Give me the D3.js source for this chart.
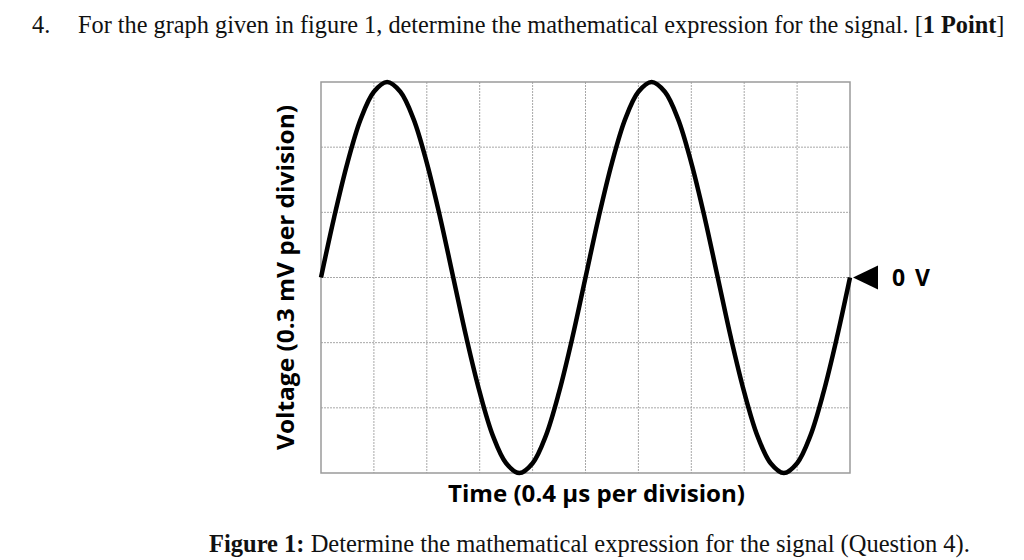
<!DOCTYPE html>
<html lang="en">
<head>
    <meta charset="UTF-8">
    <title>Figure 1: sinusoidal signal</title>
    <script src="https://d3js.org/d3.v7.min.js"></script>
    <style>
        body { margin: 0; background: #fff; }
        svg { display: block; }
    </style>
</head>
<body>
    <div id="chart"></div>
    <script>
        // Signal, in divisions (0.25 div steps)
        const timeDiv = [0, 0.25, 0.5, 0.75, 1, 1.25, 1.5, 1.75, 2, 2.25, 2.5, 2.75, 3, 3.25, 3.5, 3.75, 4, 4.25, 4.5, 4.75,
                         5, 5.25, 5.5, 5.75, 6, 6.25, 6.5, 6.75, 7, 7.25, 7.5, 7.75, 8, 8.25, 8.5, 8.75, 9, 9.25, 9.5, 9.75, 10];
        const voltDiv = [0, 0.93, 1.76, 2.43, 2.85, 3, 2.85, 2.43, 1.76, 0.93, 0, -0.93, -1.76, -2.43, -2.85, -3, -2.85, -2.43, -1.76, -0.93,
                         0, 0.93, 1.76, 2.43, 2.85, 3, 2.85, 2.43, 1.76, 0.93, 0, -0.93, -1.76, -2.43, -2.85, -3, -2.85, -2.43, -1.76, -0.93, 0];

        const xDomain = [0, 10];   // 10 time divisions
        const yDomain = [-3, 3];   // 6 voltage divisions
        const zeroLabel = "0 V";
        const xLabel = "Time (0.4 \u00b5s per division)";
        const yLabel = "Voltage (0.3 mV per division)";

        const W = 1024, H = 560;
        const plot = {left: 321, right: 850, top: 82, bottom: 473};

        const svg = d3.select("#chart").append("svg")
            .attr("width", W)
            .attr("height", H);

        const x = d3.scaleLinear().domain(xDomain).range([plot.left, plot.right]);
        const y = d3.scaleLinear().domain(yDomain).range([plot.bottom, plot.top]);

        // question text
        const serif = "Liberation Serif, Times New Roman, serif";
        svg.append("text")
            .attr("x", 32).attr("y", 33)
            .attr("font-family", serif)
            .attr("font-size", 24.3)
            .attr("fill", "#111")
            .text("4.");
        const q = svg.append("text")
            .attr("x", 78).attr("y", 33)
            .attr("font-family", serif)
            .attr("font-size", 24.3)
            .attr("fill", "#111");
        q.append("tspan").text("For the graph given in figure 1, determine the mathematical expression for the signal. [");
        q.append("tspan").attr("font-weight", "bold").text("1 Point");
        q.append("tspan").text("]");

        // grid lines
        const grid = svg.append("g");
        grid.selectAll(".vx")
            .data(x.ticks(10).slice(1, -1))
            .join("line")
            .attr("x1", d => x(d)).attr("x2", d => x(d))
            .attr("y1", plot.top).attr("y2", plot.bottom)
            .attr("stroke", "#a8a8a8")
            .attr("stroke-width", 1)
            .attr("stroke-dasharray", "2,1");
        grid.selectAll(".hy")
            .data(y.ticks(6).slice(1, -1))
            .join("line")
            .attr("y1", d => y(d)).attr("y2", d => y(d))
            .attr("x1", plot.left).attr("x2", plot.right)
            .attr("stroke", "#a8a8a8")
            .attr("stroke-width", 1)
            .attr("stroke-dasharray", "2,1");

        // frame
        svg.append("rect")
            .attr("x", plot.left).attr("y", plot.top)
            .attr("width", plot.right - plot.left)
            .attr("height", plot.bottom - plot.top)
            .attr("fill", "none")
            .attr("stroke", "#9a9a9a")
            .attr("stroke-width", 1.5);

        // the signal
        const line = d3.line()
            .x((d, i) => x(timeDiv[i]))
            .y(d => y(d))
            .curve(d3.curveCatmullRom);

        svg.append("path")
            .datum(voltDiv)
            .attr("d", line)
            .attr("fill", "none")
            .attr("stroke", "#000")
            .attr("stroke-width", 4.5)
            .attr("stroke-linejoin", "round");

        // 0 V marker
        const y0 = y(0);
        const tipX = plot.right + 3;
        svg.append("path")
            .attr("d", `M${tipX},${y0} L${tipX + 25},${y0 - 12} L${tipX + 25},${y0 + 12} Z`)
            .attr("fill", "#000");
        svg.append("text")
            .attr("x", 892)
            .attr("y", y0)
            .attr("dy", "0.36em")
            .attr("font-family", "Open Sans, Lato, sans-serif")
            .attr("font-weight", "bold")
            .attr("font-size", 23)
            .attr("textLength", 38)
            .text(zeroLabel);

        // axis titles
        const sans = "Open Sans, Lato, sans-serif";
        svg.append("text")
            .attr("x", 448)
            .attr("y", 502)
            .attr("font-family", sans)
            .attr("font-weight", "bold")
            .attr("font-size", 24)
            .attr("textLength", 297)
            .attr("lengthAdjust", "spacingAndGlyphs")
            .text(xLabel);

        svg.append("text")
            .attr("transform", "translate(294, 450) rotate(-90)")
            .attr("font-family", sans)
            .attr("font-weight", "bold")
            .attr("font-size", 24)
            .attr("textLength", 345)
            .attr("lengthAdjust", "spacingAndGlyphs")
            .text(yLabel);

        // caption
        const cap = svg.append("text")
            .attr("x", 209).attr("y", 552)
            .attr("font-family", serif)
            .attr("font-size", 24.5)
            .attr("fill", "#111");
        cap.append("tspan").attr("font-weight", "bold").text("Figure 1:");
        cap.append("tspan").text(" Determine the mathematical expression for the signal (Question 4).");
    </script>
</body>
</html>
